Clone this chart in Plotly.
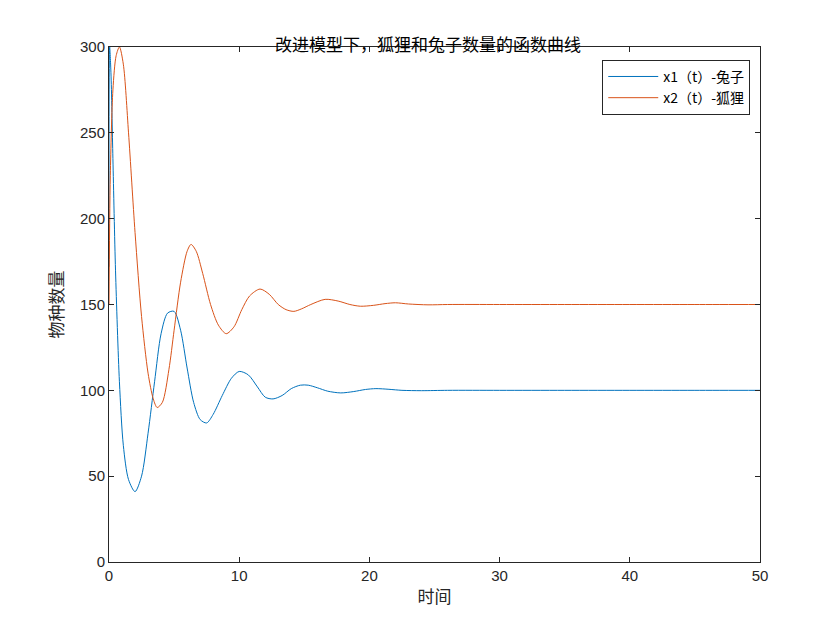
import plotly.graph_objects as go

# rabbits x1(t)
t1 = [0, 0.05, 0.15, 0.3, 0.5, 0.8, 1.1, 1.5, 2.0, 2.5, 3.0, 3.5, 4.0, 4.5, 5.0, 5.5, 6.0, 6.5, 7.0, 7.5,
      8.0, 8.7, 9.4, 10.0, 10.7, 11.4, 12.0, 12.6, 13.3, 14.0, 14.7, 15.3, 16.0, 16.8, 17.8, 18.8, 19.7,
      20.5, 21.5, 22.5, 24, 26, 30, 35, 40, 45, 50]
x1 = [172, 300, 285, 235, 170, 105, 68, 48, 41, 50, 75, 105, 133, 145, 146, 135, 113, 93, 83, 81,
      86, 97, 107, 111, 109, 102, 96, 95, 97, 101, 103, 103, 101.5, 99.5, 98.5, 99.3, 100.5,
      101, 100.6, 100, 99.8, 100, 100, 100, 100, 100, 100]

# foxes x2(t)
t2 = [0, 0.1, 0.3, 0.55, 0.8, 1.1, 1.5, 2.0, 2.5, 3.0, 3.4, 3.7, 4.1, 4.6, 5.0, 5.5, 6.0, 6.3, 6.7, 7.2,
      7.8, 8.4, 9.0, 9.6, 10.2, 10.8, 11.6, 12.3, 13.0, 13.6, 14.2, 14.8, 15.5, 16.6, 17.6, 18.5, 19.3,
      20.3, 21.2, 22.0, 23.0, 24.5, 26, 30, 35, 40, 45, 50]
x2 = [150, 225, 275, 295, 300, 290, 250, 192, 143, 110, 95, 90, 93, 112, 135, 163, 181, 185, 181, 168,
      150, 138, 133, 137, 147, 155, 159, 156, 150, 147, 146, 147.5, 150, 153, 152, 150, 149,
      149.5, 150.5, 151, 150.3, 149.8, 150, 150, 150, 150, 150, 150]

fig = go.Figure()
fig.add_trace(go.Scatter(x=t1, y=x1, mode="lines", name="x1（t）-兔子",
                         line=dict(color="#0072BD", width=1, shape="spline", smoothing=0.8)))
fig.add_trace(go.Scatter(x=t2, y=x2, mode="lines", name="x2（t）-狐狸",
                         line=dict(color="#D95319", width=1, shape="spline", smoothing=0.8)))

ax = dict(showgrid=False, zeroline=False, showline=True, linecolor="#262626", linewidth=1,
          mirror="ticks", ticks="inside", ticklen=5, tickcolor="#262626",
          tickfont=dict(size=15, color="#262626", family="Liberation Sans, Arial, sans-serif"))
fig.update_xaxes(range=[0, 50], dtick=10, title=dict(text="时间", font=dict(size=17), standoff=8), **ax)
fig.update_yaxes(range=[0, 300], dtick=50, title=dict(text="物种数量", font=dict(size=17), standoff=12), **ax)

fig.update_layout(
    width=840, height=630,
    font=dict(family="Noto Sans CJK SC, Liberation Sans, sans-serif", color="#262626"),
    title=dict(text="改进模型下，狐狸和兔子数量的函数曲线", x=0.5, xanchor="center", y=0.95,
               font=dict(size=17, color="#000")),
    plot_bgcolor="white", paper_bgcolor="white",
    margin=dict(l=101, r=88, t=39, b=76),
    showlegend=True,
    legend=dict(x=0.985, y=0.975, xanchor="right", yanchor="top", bordercolor="#262626",
                borderwidth=1, bgcolor="white", font=dict(size=14, color="#000"),
                tracegroupgap=0, itemwidth=50),
)

fig.write_html("out.html")
